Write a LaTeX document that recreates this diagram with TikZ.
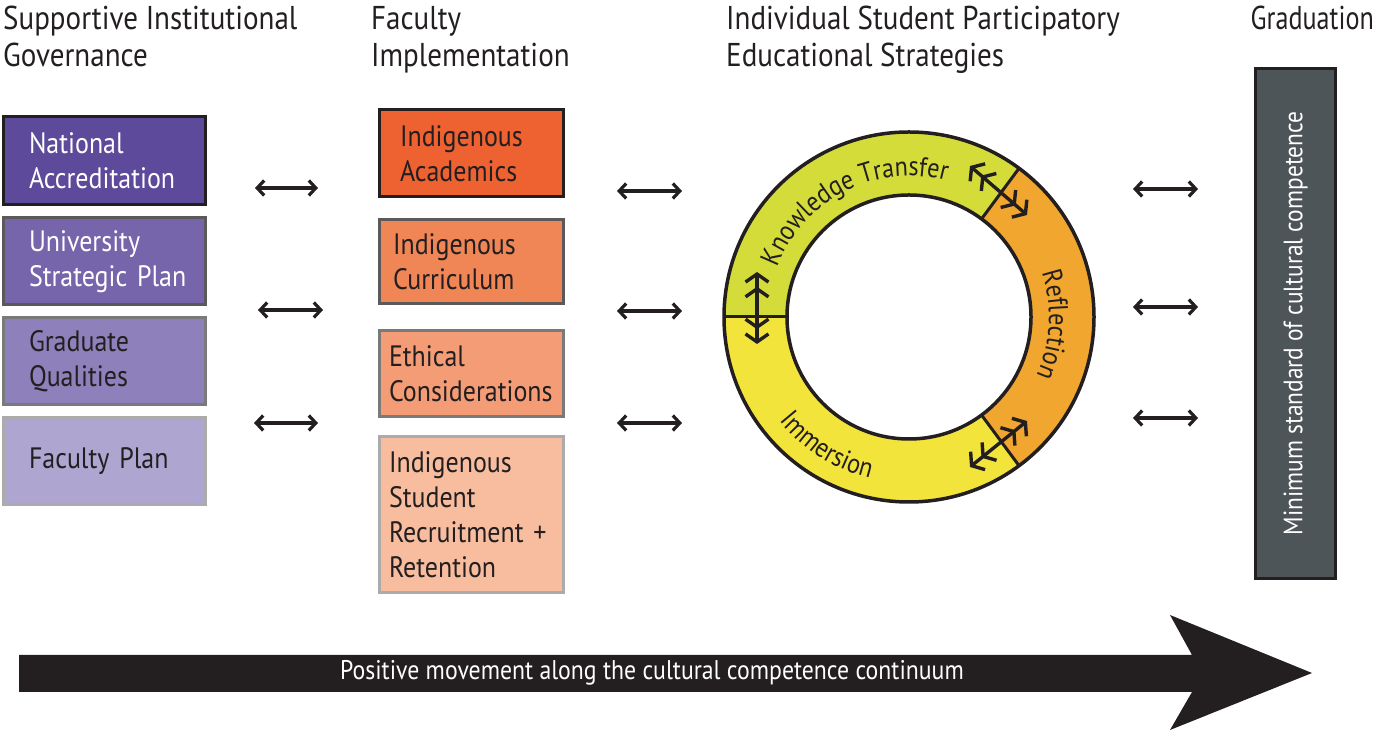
\documentclass[tikz,border=0pt]{standalone}
\usepackage{fontspec}
\usepackage{graphicx}
\setmainfont{PT Sans}[FakeStretch=0.88]
\usetikzlibrary{arrows.meta,decorations.text}
\definecolor{ink}{HTML}{231F20}
\definecolor{naF}{HTML}{5D4A9A}
\definecolor{uspF}{HTML}{7665AB}
\definecolor{gqF}{HTML}{8E80BB}
\definecolor{fpF}{HTML}{AEA6D1}
\definecolor{iaF}{HTML}{EE6231}
\definecolor{icF}{HTML}{F08556}
\definecolor{ecF}{HTML}{F39C75}
\definecolor{isF}{HTML}{F8BD9E}
\definecolor{bd1}{HTML}{5A5A5A}
\definecolor{bd2}{HTML}{7A7A7A}
\definecolor{bd3}{HTML}{ABABAB}
\definecolor{ktF}{HTML}{D4DC3A}
\definecolor{rfF}{HTML}{F0A62F}
\definecolor{imF}{HTML}{F3E43B}
\definecolor{gradF}{HTML}{4E5558}
\newcommand\ml[1]{\mbox{#1}}
\begin{document}
\begin{tikzpicture}[x=1pt,y=1pt,
  hdr/.style={anchor=north west, align=left, inner sep=0pt, text=ink, font=\fontsize{33}{37}\selectfont},
  box/.style={draw, line width=3pt, anchor=north west, align=left, inner xsep=0pt, inner ysep=0pt, font=\fontsize{29.5}{35}\selectfont, text=ink},
  conn/.style={draw=ink, line width=3.2pt, {Straight Barb[length=7pt,width=15pt]}-{Straight Barb[length=7pt,width=15pt]}},
  dtip/.tip={Straight Barb[length=8pt,width=23pt,sep=3pt] Straight Barb[length=8pt,width=23pt]},
  dconn/.style={draw=ink, line width=3.4pt, dtip-dtip},
  ringtxt/.style={decorate, decoration={text along path, text align=center, text color=ink}}
]
\useasboundingbox (0,0) rectangle (1376,730);

% headers
\node[hdr] (h1) at (3,724) {Supportive Institutional\\Governance};
\node[hdr] (h2) at (371,724) {Faculty\\Implementation};
\node[hdr] (h3) at (726,724) {Individual Student Participatory\\Educational Strategies};
\node[hdr, anchor=north east] (h4) at (1374,724) {\scalebox{0.9}[1]{Graduation}};

% left column
\node[box, draw=ink, fill=naF, text=white, minimum width=202, minimum height=88, text width=150] (na) at (1.5,614.5) {\ml{National}\\\ml{Accreditation}};
\node[box, draw=bd1, fill=uspF, text=white, minimum width=202, minimum height=87, text width=150] (usp) at (1.5,513.5) {\ml{University}\\\ml{Strategic Plan}};
\node[box, draw=bd2, fill=gqF, minimum width=202, minimum height=87, text width=150] (gq) at (1.5,413.5) {\ml{Graduate}\\\ml{Qualities}};
\node[box, draw=bd3, fill=fpF, minimum width=202, minimum height=87, text width=150] (fp) at (1.5,313.5) {\ml{Faculty Plan}};

% middle column
\node[box, draw=ink, fill=iaF, minimum width=184, minimum height=87, text width=142] (ia) at (377.5,621.5) {\ml{Indigenous}\\\ml{Academics}};
\node[box, draw=bd1, fill=icF, minimum width=184, minimum height=84, text width=156] (ic) at (377.5,511.5) {\ml{Indigenous}\\\ml{Curriculum}};
\node[box, draw=bd2, fill=ecF, minimum width=184, minimum height=86, text width=164] (ec) at (377.5,400.5) {\ml{Ethical}\\\ml{Considerations}};
\node[box, draw=bd3, fill=isF, minimum width=184, minimum height=156, text width=164] (isr) at (377.5,294.5) {\ml{Indigenous}\\\ml{Student}\\\ml{Recruitment +}\\\ml{Retention}};

% graduation bar
\node[draw=ink, line width=3pt, fill=gradF, minimum width=80, minimum height=510, inner sep=0pt] (grad) at (1295.5,406.5) {};
\node[rotate=90, text=white, font=\fontsize{26.6}{30}\selectfont, inner sep=0pt] (gradtxt) at (grad.center) {Minimum standard of cultural competence};

% connectors column 1
\coordinate (c1a) at (255,542); \coordinate (c1b) at (318,542);
\coordinate (c2a) at (258,420); \coordinate (c2b) at (323,420);
\coordinate (c3a) at (254,307); \coordinate (c3b) at (318,307);
\draw[conn] (c1a) -- (c1b);
\draw[conn] (c2a) -- (c2b);
\draw[conn] (c3a) -- (c3b);
% column 2
\coordinate (d1a) at (617,539); \coordinate (d1b) at (682,539);
\coordinate (d2a) at (617,419); \coordinate (d2b) at (682,419);
\coordinate (d3a) at (617,307); \coordinate (d3b) at (682,307);
\draw[conn] (d1a) -- (d1b);
\draw[conn] (d2a) -- (d2b);
\draw[conn] (d3a) -- (d3b);
% column 3
\coordinate (e1a) at (1133,541); \coordinate (e1b) at (1198,541);
\coordinate (e2a) at (1133,423); \coordinate (e2b) at (1198,423);
\coordinate (e3a) at (1133,312); \coordinate (e3b) at (1198,312);
\draw[conn] (e1a) -- (e1b);
\draw[conn] (e2a) -- (e2b);
\draw[conn] (e3a) -- (e3b);

% ring
\coordinate (ring) at (909,413);
\begin{scope}[shift={(ring)}]
  \fill[ktF] (53.5:185) arc[start angle=53.5, end angle=180, radius=185] -- (180:122) arc[start angle=180, end angle=53.5, radius=122] -- cycle;
  \fill[rfF] (-53.5:185) arc[start angle=-53.5, end angle=53.5, radius=185] -- (53.5:122) arc[start angle=53.5, end angle=-53.5, radius=122] -- cycle;
  \fill[imF] (180:185) arc[start angle=180, end angle=306.5, radius=185] -- (306.5:122) arc[start angle=306.5, end angle=180, radius=122] -- cycle;
  \draw[ink, line width=3.5pt] (0,0) circle[radius=185];
  \draw[ink, line width=3.5pt] (0,0) circle[radius=122];
  \draw[ink, line width=3pt] (180:122) -- (180:185);
  \draw[ink, line width=3pt] (53.5:122) -- (53.5:185);
  \draw[ink, line width=3pt] (-53.5:122) -- (-53.5:185);
  \coordinate (r1a) at (-152,45); \coordinate (r1b) at (-152,-27);
  \coordinate (r2a) at (61,151); \coordinate (r2b) at (118,102);
  \coordinate (r3a) at (61,-150); \coordinate (r3b) at (118,-104);
  \path[ringtxt, decoration={text={|\fontsize{27.5}{30}\selectfont|Knowledge Transfer}}] (172:141) arc[start angle=172, end angle=62, radius=141];
  \path[ringtxt, decoration={text={|\fontsize{27.5}{30}\selectfont|Reflection}}] (42:140) arc[start angle=42, end angle=-48, radius=140];
  \path[ringtxt, decoration={text={|\fontsize{27.5}{30}\selectfont|Immersion}}] (183:166) arc[start angle=183, end angle=292, radius=166];
\end{scope}
\draw[dconn] (r1a) -- (r1b);
\draw[dconn] (r2a) -- (r2b);
\draw[dconn] (r3a) -- (r3b);

% bottom arrow
\fill[ink] (19,75) -- (1192,75) -- (1170,115) -- (1312,57) -- (1170,0) -- (1192,38) -- (19,38) -- cycle;
\node[text=white, font=\fontsize{27}{30}\selectfont, inner sep=0pt] (batxt) at (652,57) {Positive movement along the cultural competence continuum};
\end{tikzpicture}
\end{document}
